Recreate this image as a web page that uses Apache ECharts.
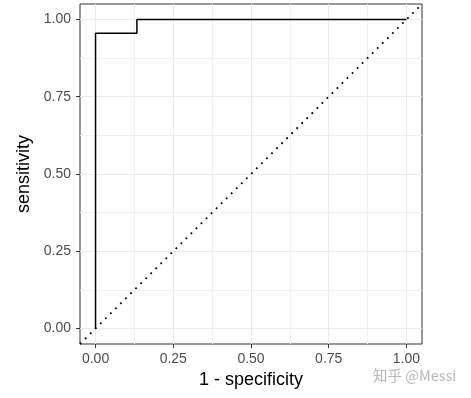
<!DOCTYPE html>
<html><head><meta charset="utf-8">
<script src="https://cdn.jsdelivr.net/npm/echarts@6/dist/echarts.min.js"></script>
<style>html,body{margin:0;padding:0;background:#fff}#c{width:471px;height:398px}</style>
</head><body><div id="c"></div>
<script>
const fpr = [0, 0, 0.133, 0.133, 1];
const tpr = [0, 0.955, 0.955, 1, 1];
const diagX = [-0.05, 1.05];
const diagY = [-0.05, 1.05];
const majorTicks = [0, 0.25, 0.5, 0.75, 1];
const minorTicks = [0.125, 0.375, 0.625, 0.875];
const tickLabels = ['0.00', '0.25', '0.50', '0.75', '1.00'];
const axisMin = -0.05, axisMax = 1.05;

const chart = echarts.init(document.getElementById('c'), null, {renderer: 'canvas'});
const FONT = 'Liberation Sans, Arial, sans-serif';
const fmt = v => { const i = majorTicks.findIndex(t => Math.abs(t - v) < 1e-9); return i >= 0 ? tickLabels[i] : ''; };
const majorAxis = (extra) => Object.assign({
  type: 'value', min: axisMin, max: axisMax, offset: 0,
  axisLine: {show: false, onZero: false},
  axisTick: {show: true, inside: false, customValues: majorTicks, length: 4, lineStyle: {color: '#333333', width: 1}},
  splitLine: {show: true, lineStyle: {color: '#ebebeb', width: 1}}
}, extra);
const minorAxis = (extra) => Object.assign({
  type: 'value', min: axisMin, max: axisMax, offset: 0,
  axisLine: {show: false, onZero: false},
  axisTick: {show: false, customValues: minorTicks},
  axisLabel: {show: false, customValues: minorTicks},
  splitLine: {show: true, lineStyle: {color: '#f1f1f1', width: 1}}
}, extra);

const data = fpr.map((x, i) => [x, tpr[i]]);
const diag = diagX.map((x, i) => [x, diagY[i]]);

chart.setOption({
  animation: false,
  backgroundColor: '#ffffff',
  grid: {left: 80, top: 4, right: 49, bottom: 54, show: true, borderColor: '#333333', borderWidth: 1, backgroundColor: 'transparent', containLabel: false, outerBoundsMode: 'none'},
  xAxis: [
    minorAxis({gridIndex: 0, position: 'bottom'}),
    majorAxis({gridIndex: 0, position: 'bottom', name: '1 - specificity', nameLocation: 'middle', nameGap: 26,
      nameTextStyle: {color: '#000', fontSize: 18, fontFamily: FONT},
      axisLabel: {show: true, customValues: majorTicks, formatter: fmt, color: '#4d4d4d', fontSize: 14, margin: 8, fontFamily: FONT}})
  ],
  yAxis: [
    minorAxis({gridIndex: 0, position: 'left'}),
    majorAxis({gridIndex: 0, position: 'left', name: 'sensitivity', nameLocation: 'middle', nameGap: 44, nameRotate: 90,
      nameTextStyle: {color: '#000', fontSize: 18, fontFamily: FONT},
      axisLabel: {show: true, customValues: majorTicks, formatter: fmt, color: '#4d4d4d', fontSize: 14, margin: 9, fontFamily: FONT}})
  ],
  series: [
    {type: 'line', xAxisIndex: 1, yAxisIndex: 1, data: diag, showSymbol: false, symbol: 'none', clip: true,
     lineStyle: {color: '#000', width: 1.8, type: [1.8, 5.3], cap: 'butt'}},
    {type: 'line', xAxisIndex: 1, yAxisIndex: 1, data: data, showSymbol: false, symbol: 'none',
     lineStyle: {color: '#000', width: 1.5}}
  ],
  graphic: [
    {type: 'text', left: 373, top: 368, style: {text: '知乎 @Messi', fill: '#b8b8b8', fontSize: 14.5, fontFamily: 'Noto Sans CJK SC, sans-serif'}}
  ]
});
</script></body></html>
